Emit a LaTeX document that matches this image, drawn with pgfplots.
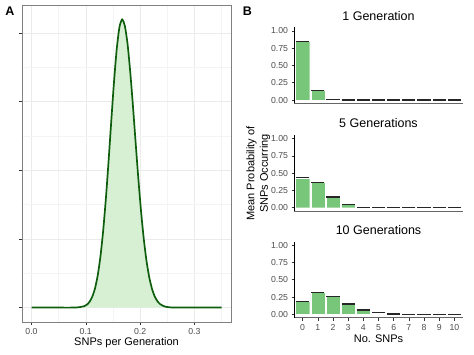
\documentclass[border=0pt]{standalone}
\usepackage{pgfplots}
\pgfplotsset{compat=1.18}
\usepackage{fontspec}
\setmainfont{Liberation Sans}
\definecolor{barg}{HTML}{78C679}
\definecolor{densfill}{HTML}{D7F0D4}
\definecolor{densline}{HTML}{0E5E0E}
\definecolor{tickgrey}{HTML}{4D4D4D}
\definecolor{grid1}{HTML}{EBEBEB}
\definecolor{grid2}{HTML}{F4F4F4}
\pgfplotstableread{
x y
0.000 0
0.040 0
0.077 0
0.087 0.02
0.097 0.08
0.102 0.17
0.107 0.34
0.112 0.64
0.117 1.12
0.122 1.88
0.127 2.98
0.132 4.47
0.137 6.35
0.142 8.55
0.147 10.90
0.152 13.17
0.157 15.07
0.162 16.35
0.167 16.8
0.172 16.42
0.177 15.35
0.182 13.70
0.187 11.70
0.192 9.54
0.197 7.44
0.202 5.54
0.207 3.95
0.212 2.69
0.217 1.75
0.222 1.09
0.227 0.65
0.232 0.37
0.237 0.20
0.242 0.11
0.247 0.05
0.257 0.01
0.267 0
0.300 0
0.350 0
}\dens
\pgfplotstableread{
x y
0 0.848
1 0.141
2 0.012
3 0.001
4 0
5 0
6 0
7 0
8 0
9 0
10 0
}\genone
\pgfplotstableread{
x y
0 0.434
1 0.365
2 0.155
3 0.045
4 0.009
5 0.0015
6 0
7 0
8 0
9 0
10 0
}\genfive
\pgfplotstableread{
x y
0 0.188
1 0.313
2 0.262
3 0.148
4 0.063
5 0.021
6 0.006
7 0.0015
8 0
9 0
10 0
}\genten
\begin{document}
\begin{tikzpicture}
\path[use as bounding box] (0pt,0pt) rectangle (474pt,355pt);
\pgfplotsset{
  every axis/.append style={
    scale only axis,
    /pgf/number format/assume math mode=true,
    tick label style={font=\fontsize{8.7}{10}\selectfont, text=tickgrey},
    tick style={color=black!80, line width=0.5pt},
    major tick length=2.75pt,
  },
  panelbase/.style={
    at={(294.3pt,#1)}, anchor=south west,
    width=168.4pt, height=76.1pt,
    xmin=-0.55, xmax=10.55, ymin=-0.05, ymax=1.05,
  },
  barpanel/.style={
    panelbase=#1,
    axis x line=bottom, axis y line=left,
    x axis line style={-, line width=1.1pt, color=black!60},
    y axis line style={-, line width=0.6pt, color=black},
    ytick={0,0.25,0.5,0.75,1},
    yticklabel style={/pgf/number format/.cd, fixed, fixed zerofill, precision=2},
    tick align=outside,
    xtick=\empty,
    ybar, bar width=0.93, bar shift=0pt,
  },
  markpanel/.style={
    panelbase=#1, axis lines=none, ticks=none,
  },
}
% Panel A
\begin{axis}[
  at={(22pt,33pt)}, anchor=south west,
  width=209pt, height=317pt,
  xmin=-0.0175, xmax=0.3675, ymin=-0.84, ymax=17.64,
  xtick={0,0.1,0.2,0.3},
  xticklabels={0.0,0.1,0.2,0.3},
  minor xtick={0.05,0.15,0.25,0.35},
  ytick={0,4,8,12,16},
  yticklabels={},
  minor ytick={2,6,10,14},
  tick align=outside,
  xtick pos=bottom, ytick pos=left,
  grid=both,
  major grid style={grid1, line width=0.55pt},
  minor grid style={grid2, line width=0.35pt},
  minor tick length=0pt,
  axis line style={color=black!50, line width=0.6pt},
]
\addplot[fill=densfill, draw=none, smooth, tension=0.4] table[x=x,y=y]{\dens} \closedcycle;
\addplot[densline, line width=1.7pt, smooth, tension=0.4] table[x=x,y=y]{\dens};
\end{axis}
% Panel B
\begin{axis}[barpanel=251.5pt]
\addplot[fill=barg, draw=white, line width=0.4pt] table[x=x,y=y]{\genone};
\end{axis}
\begin{axis}[markpanel=251.5pt]
\addplot[only marks, mark=-, mark size=6.6pt, mark options={line width=1.2pt, color=black!85}] table[x=x,y=y]{\genone};
\end{axis}
\begin{axis}[barpanel=143.8pt]
\addplot[fill=barg, draw=white, line width=0.4pt] table[x=x,y=y]{\genfive};
\end{axis}
\begin{axis}[markpanel=143.8pt]
\addplot[only marks, mark=-, mark size=6.6pt, mark options={line width=1.2pt, color=black!85}] table[x=x,y=y]{\genfive};
\end{axis}
\begin{axis}[barpanel=37.2pt, xtick={0,...,10}]
\addplot[fill=barg, draw=white, line width=0.4pt] table[x=x,y=y]{\genten};
\end{axis}
\begin{axis}[markpanel=37.2pt]
\addplot[only marks, mark=-, mark size=6.6pt, mark options={line width=1.2pt, color=black!85}] table[x=x,y=y]{\genten};
\end{axis}
% Texts
\node[font=\fontsize{12.5}{14}\selectfont\bfseries] at (10pt,343.3pt) {A};
\node[font=\fontsize{12.5}{14}\selectfont\bfseries] at (247.3pt,343.3pt) {B};
\node[font=\fontsize{11}{13}\selectfont] at (126.5pt,12pt) {SNPs per Generation};
\node[font=\fontsize{12.5}{14}\selectfont] at (378.5pt,339.3pt) {1 Generation};
\node[font=\fontsize{12.5}{14}\selectfont] at (378.5pt,231.7pt) {5 Generations};
\node[font=\fontsize{12.5}{14}\selectfont] at (378.5pt,125pt) {10 Generations};
\node[font=\fontsize{11}{13.3}\selectfont] at (378.5pt,16.7pt) {No. SNPs};
\node[font=\fontsize{11}{13.3}\selectfont, rotate=90, align=center] at (258.3pt,181.5pt) {Mean Probability of\\SNPs Occurring};
\end{tikzpicture}
\end{document}
